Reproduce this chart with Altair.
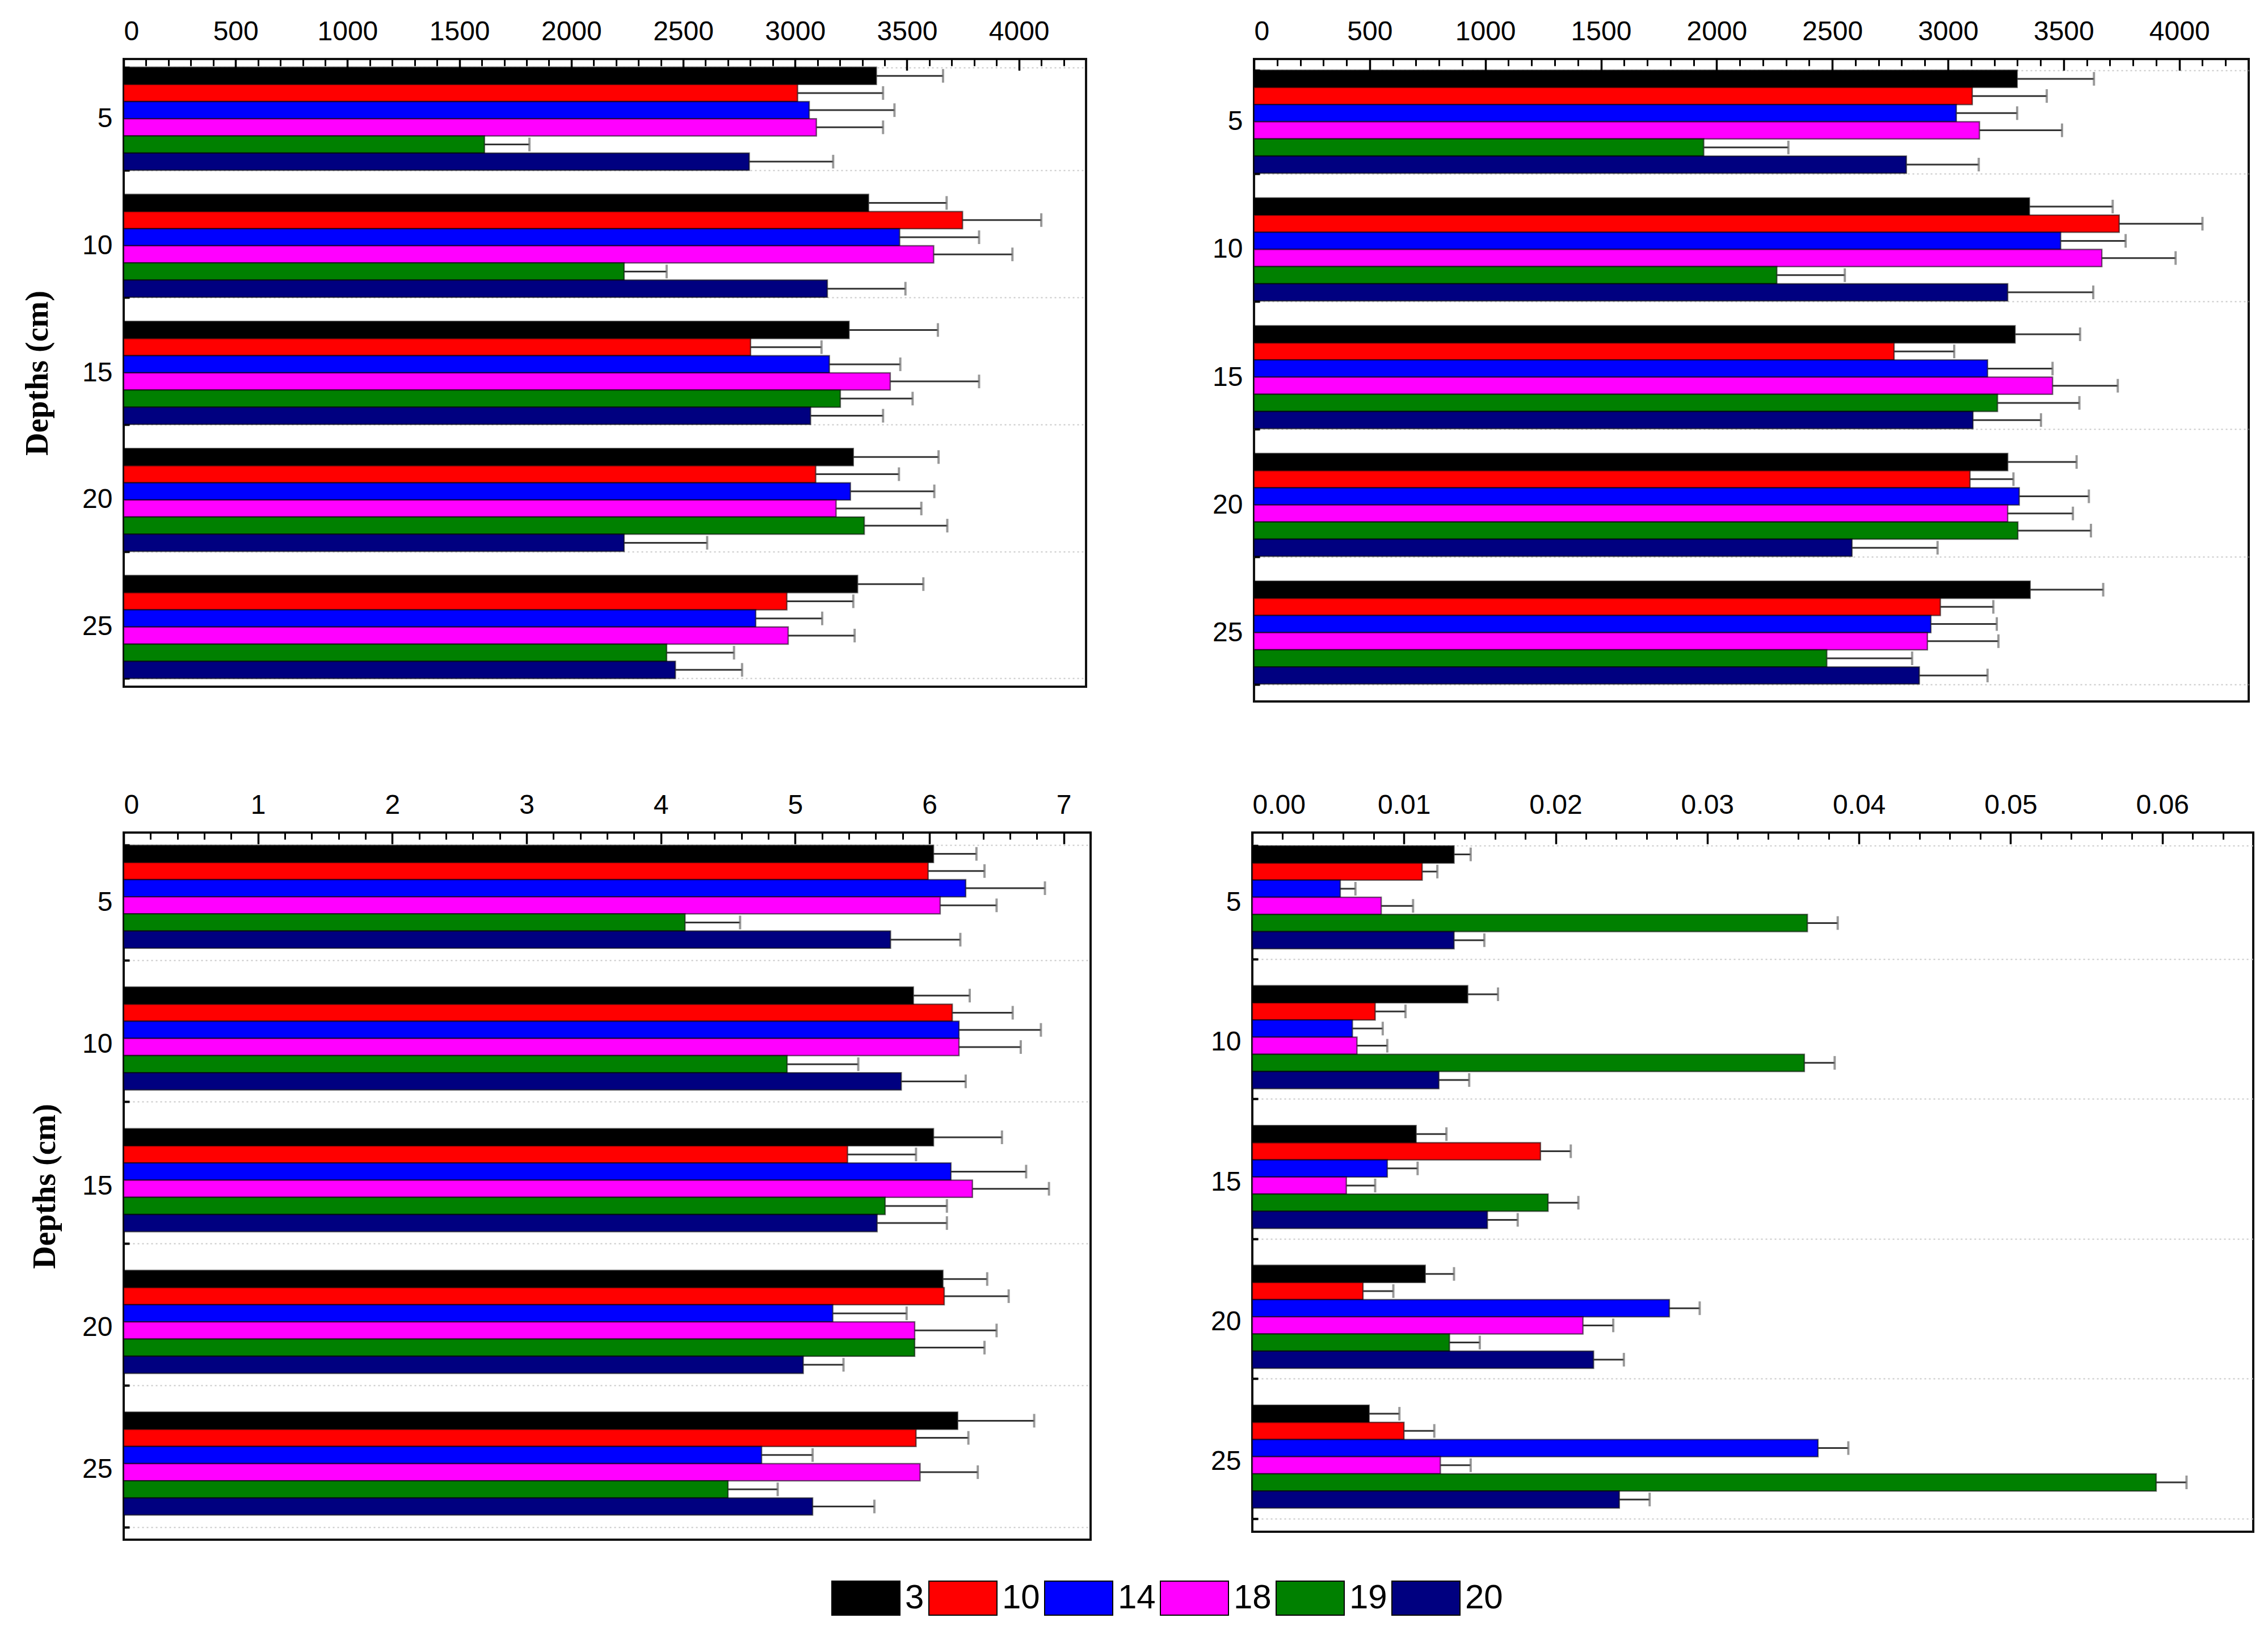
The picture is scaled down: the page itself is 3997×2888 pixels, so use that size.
import altair as alt
import pandas as pd

DEPTHS = [5, 10, 15, 20, 25]
SERIES = ["3", "10", "14", "18", "19", "20"]
COLORS = ["#000000", "#ff0000", "#0000ff", "#ff00ff", "#008000", "#000080"]

# Panel A (top-left): bar means per series, over depths 5..25
A_MEAN = {
    "3": [3363, 3328, 3241, 3260, 3279],
    "10": [3011, 3748, 2801, 3092, 2963],
    "14": [3063, 3467, 3153, 3247, 2824],
    "18": [3095, 3619, 3425, 3183, 2969],
    "19": [1612, 2236, 3202, 3309, 2426],
    "20": [2795, 3144, 3069, 2236, 2465],
}
A_ERR = {
    "3": [298, 349, 397, 381, 294],
    "10": [382, 352, 317, 372, 297],
    "14": [381, 355, 317, 375, 297],
    "18": [298, 352, 397, 381, 297],
    "19": [201, 190, 323, 371, 301],
    "20": [375, 349, 324, 371, 298],
}

# Panel B (top-right)
B_MEAN = {
    "3": [3299, 3352, 3290, 3258, 3355],
    "10": [3105, 3740, 2767, 3095, 2967],
    "14": [3036, 3487, 3171, 3308, 2926],
    "18": [3136, 3665, 3452, 3258, 2911],
    "19": [1944, 2260, 3214, 3302, 2476],
    "20": [2820, 3258, 3108, 2585, 2876],
}
B_ERR = {
    "3": [332, 360, 281, 298, 316],
    "10": [322, 360, 260, 188, 229],
    "14": [263, 281, 281, 301, 285],
    "18": [357, 319, 282, 282, 307],
    "19": [366, 294, 354, 316, 369],
    "20": [313, 370, 294, 370, 295],
}

# Panel C (bottom-left)
C_MEAN = {
    "3": [6.03, 5.88, 6.03, 6.10, 6.21],
    "10": [5.99, 6.17, 5.39, 6.11, 5.90],
    "14": [6.27, 6.22, 6.16, 5.28, 4.75],
    "18": [6.08, 6.22, 6.32, 5.89, 5.93],
    "19": [4.18, 4.94, 5.67, 5.89, 4.50],
    "20": [5.71, 5.79, 5.61, 5.06, 5.13],
}
C_ERR = {
    "3": [0.32, 0.42, 0.51, 0.33, 0.57],
    "10": [0.42, 0.45, 0.51, 0.48, 0.39],
    "14": [0.59, 0.61, 0.56, 0.55, 0.38],
    "18": [0.42, 0.46, 0.57, 0.61, 0.43],
    "19": [0.41, 0.53, 0.46, 0.52, 0.37],
    "20": [0.52, 0.48, 0.52, 0.30, 0.46],
}

# Panel D (bottom-right)
D_MEAN = {
    "3": [0.0133, 0.0142, 0.0108, 0.0114, 0.0077],
    "10": [0.0112, 0.0081, 0.0190, 0.0073, 0.0100],
    "14": [0.0058, 0.0066, 0.0089, 0.0275, 0.0373],
    "18": [0.0085, 0.0069, 0.0062, 0.0218, 0.0124],
    "19": [0.0366, 0.0364, 0.0195, 0.0130, 0.0596],
    "20": [0.0133, 0.0123, 0.0155, 0.0225, 0.0242],
}
D_ERR = {
    "3": [0.0011, 0.0020, 0.0020, 0.0019, 0.0020],
    "10": [0.0010, 0.0020, 0.0020, 0.0020, 0.0020],
    "14": [0.0010, 0.0020, 0.0020, 0.0020, 0.0020],
    "18": [0.0021, 0.0020, 0.0019, 0.0020, 0.0020],
    "19": [0.0020, 0.0020, 0.0020, 0.0020, 0.0020],
    "20": [0.0020, 0.0020, 0.0020, 0.0020, 0.0020],
}

TICKS_AB = [0, 500, 1000, 1500, 2000, 2500, 3000, 3500, 4000]
MINOR_AB = [i * 100 for i in range(43)]
TICKS_C = [0, 1, 2, 3, 4, 5, 6, 7]
MINOR_C = [round(i * 0.2, 2) for i in range(37)]
TICKS_D = [0, 0.01, 0.02, 0.03, 0.04, 0.05, 0.06]
MINOR_D = [round(i * 0.002, 3) for i in range(34)]

LABEL_FONT = "Liberation Sans, Arial, sans-serif"

color_enc = alt.Color(
    "series:N",
    sort=SERIES,
    scale=alt.Scale(domain=SERIES, range=COLORS),
    legend=alt.Legend(
        orient="none",
        legendX=1247,
        legendY=2651,
        direction="horizontal",
        title=None,
        symbolType="M-1,-0.5H1V0.5H-1Z",
        symbolSize=14400,
        symbolStrokeColor="black",
        symbolStrokeWidth=2,
        symbolOpacity=1,
        labelFontSize=60,
        labelFont="Liberation Sans Narrow, Liberation Sans, Arial",
        labelColor="black",
        labelOffset=8,
        columnPadding=4,
        padding=0,
    ),
)


def panel(mean, err, xmax, major, minor, fmt, w, h, title, tp, po, align):
    rows = []
    for s in SERIES:
        for i, d in enumerate(DEPTHS):
            rows.append({"depth": d, "series": s, "mean": mean[s][i],
                         "hi": mean[s][i] + err[s][i]})
    df = pd.DataFrame(rows)
    yscale = alt.Scale(domain=DEPTHS, paddingInner=0.19, paddingOuter=po, align=align)
    xscale = alt.Scale(domain=[0, xmax], nice=False, zero=True)
    yoff = alt.YOffset("series:N", sort=SERIES,
                       scale=alt.Scale(domain=SERIES, paddingInner=0, paddingOuter=0))
    base = alt.Chart(df)

    yaxis_kw = dict(orient="left", ticks=False, tickSize=0, domain=False, labelPadding=20,
                    grid=True, tickBand="extent", gridDash=[3, 5], gridColor="#c8c8c8",
                    gridWidth=2, labelAngle=0, labelFontSize=48, labelFont=LABEL_FONT,
                    labelColor="black")
    if title:
        yaxis_kw.update(title=title, titlePadding=tp, titleFont="Liberation Serif, Times New Roman, serif",
                        titleFontSize=56, titleFontWeight="bold", titleColor="black")
    else:
        yaxis_kw.update(title=None)

    bars = base.mark_bar(stroke="black", strokeWidth=2.5, strokeOpacity=0.55).encode(
        x=alt.X("mean:Q", scale=xscale,
                axis=alt.Axis(orient="top", values=major, format=fmt, ticks=False, tickSize=0,
                              domain=False, grid=False, labelPadding=24, labelFontSize=48,
                              labelFont=LABEL_FONT, labelColor="black", title=None)),
        y=alt.Y("depth:O", scale=yscale, axis=alt.Axis(**yaxis_kw)),
        yOffset=yoff,
        color=color_enc,
    )
    rules = base.mark_rule(color="#333333", strokeWidth=3).encode(
        x=alt.X("mean:Q", scale=xscale,
                axis=alt.Axis(orient="bottom", offset=-h, values=major, labels=False,
                              domain=False, grid=False, ticks=True, tickSize=20, tickWidth=3.5,
                              tickColor="black", title=None)),
        x2="hi:Q",
        y=alt.Y("depth:O", scale=yscale,
                axis=alt.Axis(orient="right", offset=-w, labels=False, domain=False, grid=False,
                              ticks=True, tickBand="extent", tickSize=10, tickWidth=4,
                              tickColor="black", title=None)),
        yOffset=yoff,
    )
    caps = base.mark_tick(color="#6e6e6e", thickness=4, size=24).encode(
        x=alt.X("hi:Q", scale=xscale,
                axis=alt.Axis(orient="bottom", offset=-h, values=minor, labels=False,
                              domain=False, grid=False, tickSize=12, tickWidth=3,
                              tickColor="black", title=None)),
        y=alt.Y("depth:O", scale=yscale, axis=None),
        yOffset=yoff,
    )
    return (alt.layer(bars, rules, caps)
            .resolve_axis(x="independent", y="independent")
            .properties(width=w, height=h))


pA = panel(A_MEAN, A_ERR, 4300, TICKS_AB, MINOR_AB, "d", 1696, 1106, "Depths (cm)", 49, 0.065, 0.5)
pB = panel(B_MEAN, B_ERR, 4300, TICKS_AB, MINOR_AB, "d", 1753, 1132, None, 0, 0.11, 0.4)
pC = panel(C_MEAN, C_ERR, 7.2, TICKS_C, MINOR_C, "d", 1704, 1246, "Depths (cm)", 36, 0.09, 0.5)
pD = panel(D_MEAN, D_ERR, 0.066, TICKS_D, MINOR_D, ".2f", 1764, 1232, None, 0, 0.095, 0.5)

top = alt.hconcat(pA, pB, spacing=218)
bottom = alt.hconcat(pC, pD, spacing=205)

chart = (
    alt.concat(top, bottom, columns=1, align="none", spacing=155)
    .properties(padding={"left": 28, "top": 22, "right": 5, "bottom": 5},
                background="white")
    .configure_view(stroke="#111111", strokeWidth=4)
)

chart.save("out.html", embed_options={"renderer": "svg", "actions": False})
